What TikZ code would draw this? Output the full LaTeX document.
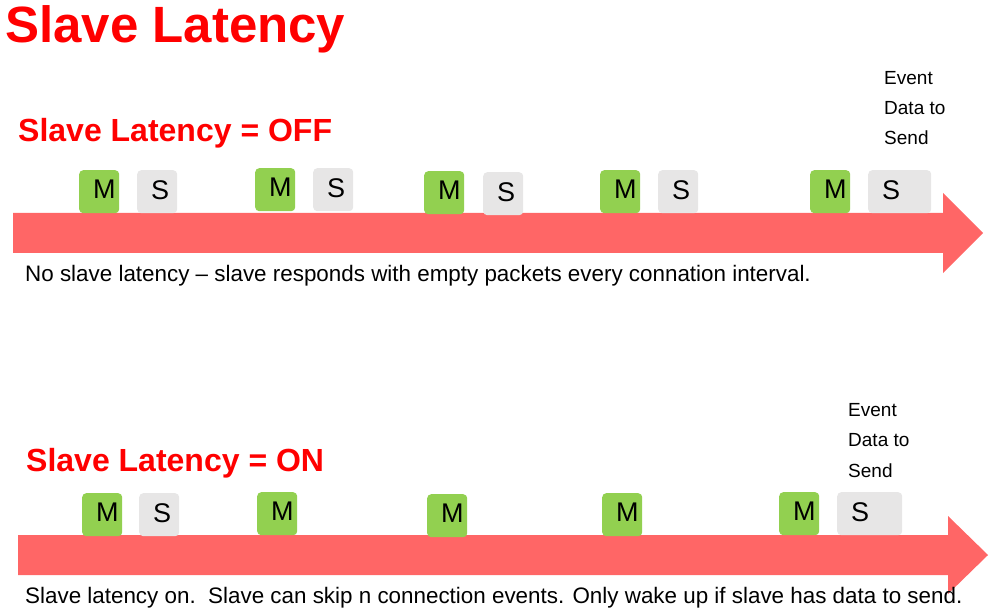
\documentclass[tikz,border=0pt]{standalone}
\usepackage{fontspec}
\setmainfont{Liberation Sans}
\definecolor{arrowred}{HTML}{FF6666}
\definecolor{mgreen}{HTML}{92D050}
\definecolor{sgray}{HTML}{E7E6E6}
\definecolor{titlered}{HTML}{FF0000}
\newcommand\pkt[2]{\makebox[#1][l]{\hspace{14pt}#2}}
\begin{document}
\begin{tikzpicture}[x=1pt,y=-1pt,
  pktbase/.style={rounded corners=4pt, minimum height=43pt, inner sep=0pt, text depth=4pt,
    anchor=north west, font=\fontsize{27}{27}\selectfont},
  mbox/.style={pktbase, fill=mgreen},
  sbox/.style={pktbase, fill=sgray},
  timeline/.style={fill=arrowred, draw=none},
  heading/.style={anchor=base west, inner sep=0pt, text=titlered, font=\bfseries\fontsize{32}{32}\selectfont},
  caption/.style={anchor=base west, inner sep=0pt, font=\fontsize{22.4}{22.4}\selectfont},
  evt/.style={anchor=base west, inner sep=0pt, font=\fontsize{19}{19}\selectfont}]
\useasboundingbox (0,0) rectangle (995,612);

% title
\node[anchor=base west, inner sep=0pt, text=titlered, font=\bfseries\fontsize{51}{51}\selectfont] (title) at (5,43) {Slave Latency};

% ---------- OFF ----------
\node[heading] (hoff) at (18,142) {Slave Latency = OFF};
\fill[timeline] (13,213) -- (943,213) -- (943,193) -- (983,233) -- (943,273) -- (943,253) -- (13,253) -- cycle;
\node[mbox] (tm1) at (79,170) {\pkt{40pt}{M}};
\node[sbox] (ts1) at (137,170) {\pkt{40pt}{S}};
\node[mbox] (tm2) at (255,168) {\pkt{40pt}{M}};
\node[sbox] (ts2) at (313,168) {\pkt{40pt}{S}};
\node[mbox] (tm3) at (424,171) {\pkt{40pt}{M}};
\node[sbox] (ts3) at (483,172) {\pkt{40pt}{S}};
\node[mbox] (tm4) at (600,170) {\pkt{40pt}{M}};
\node[sbox] (ts4) at (658,170) {\pkt{40pt}{S}};
\node[mbox] (tm5) at (810,170) {\pkt{40pt}{M}};
\node[sbox] (ts5) at (868,170) {\pkt{63pt}{S}};
\node[evt] (te1) at (884,85) {Event};
\node[evt] (te2) at (884,115) {Data to};
\node[evt] (te3) at (884,145) {Send};
\node[caption] (coff) at (25,281) {No slave latency -- slave responds with empty packets every connation interval.};

% ---------- ON ----------
\node[heading] (hon) at (26,471) {Slave Latency = ON};
\fill[timeline] (18,535) -- (948,535) -- (948,516) -- (988,555) -- (948,594) -- (948,575) -- (18,575) -- cycle;
\node[mbox] (bm1) at (82,493) {\pkt{40pt}{M}};
\node[sbox] (bs1) at (139,493) {\pkt{40pt}{S}};
\node[mbox] (bm2) at (257,492) {\pkt{40pt}{M}};
\node[mbox] (bm3) at (427,494) {\pkt{40pt}{M}};
\node[mbox] (bm4) at (602,493) {\pkt{40pt}{M}};
\node[mbox] (bm5) at (779,492) {\pkt{40pt}{M}};
\node[sbox] (bs5) at (837,492) {\pkt{65pt}{S}};
\node[evt] (be1) at (848,416) {Event};
\node[evt] (be2) at (848,446) {Data to};
\node[evt] (be3) at (848,477) {Send};
\node[caption] (con) at (25,603) {Slave latency on.\ \ Slave can skip n connection events. Only wake up if slave has data to send.};
\end{tikzpicture}
\end{document}
